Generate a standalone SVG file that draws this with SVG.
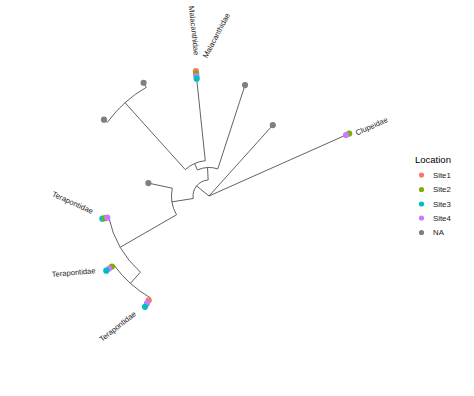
<svg xmlns="http://www.w3.org/2000/svg" width="474" height="396" viewBox="0 0 474 396">
<style>
.e{fill:none;stroke:#3a3a3a;stroke-width:0.8}
.lab{font-family:"Liberation Sans",Arial,sans-serif;font-size:7.6px;fill:#1a1a1a}
.leg{font-family:"Liberation Sans",Arial,sans-serif;font-size:7.8px;fill:#1a1a1a}
.title{font-family:"Liberation Sans",Arial,sans-serif;font-size:9.5px;fill:#000}
.s1{fill:#F8766D}.s2{fill:#7CAE00}.s3{fill:#00BFC4}.s4{fill:#C77CFF}.na{fill:#7F7F7F}
</style>
<rect width="474" height="396" fill="#fff"/>
<g id="connectors">
<path class="e" d="M209,196 L344.2,135.8"/>
<path class="e" d="M209,196 L272.8,125.1"/>
<path class="e" d="M209,196 L196.57,185.93"/>
<path class="e" d="M208.16,180.02 A16,16 0 0 0 193.2,198.5"/>
<path class="e" d="M208.16,180.02 L207.51,167.54"/>
<path class="e" d="M217.81,168.89 A28.5,28.5 0 0 0 197.41,169.97"/>
<path class="e" d="M217.81,168.89 L245.03,85.1"/>
<path class="e" d="M197.41,169.97 L194.56,163.57"/>
<path class="e" d="M205.29,160.7 A35.5,35.5 0 0 0 185.25,169.62"/>
<path class="e" d="M205.29,160.7 L196.67,78.65"/>
<path class="e" d="M185.25,169.62 L125.03,102.74"/>
<path class="e" d="M146.25,87.32 A125.5,125.5 0 0 0 107.47,122.23"/>
<path class="e" d="M146.25,87.32 L143.6,82.73"/>
<path class="e" d="M107.47,122.23 L103.99,119.7"/>
<path class="e" d="M193.2,198.5 L171.96,201.87"/>
<path class="e" d="M172.32,188.2 A37.5,37.5 0 0 0 176.52,214.75"/>
<path class="e" d="M172.32,188.2 L148.36,183.11"/>
<path class="e" d="M176.52,214.75 L120.23,247.25"/>
<path class="e" d="M108.74,217.31 A102.5,102.5 0 0 0 140.42,272.17"/>
<path class="e" d="M108.74,217.31 L107.28,217.62"/>
<path class="e" d="M140.42,272.17 L130.38,283.31"/>
<path class="e" d="M113.94,265.07 A117.5,117.5 0 0 0 150.25,297.76"/>
<path class="e" d="M113.94,265.07 L112.32,266.24"/>
<path class="e" d="M150.25,297.76 L148.75,300.35"/>
</g>
<g id="tip-clupeidae">
<circle class="s2" cx="349.2" cy="133.6" r="3.1"/>
<circle class="s4" cx="346" cy="135" r="3.1"/>
<text class="lab" transform="translate(357,135.5) rotate(-24)">Clupeidae</text>
</g>
<g id="tip-na-1"><circle class="na" cx="272.8" cy="125.1" r="3.1"/></g>
<g id="tip-na-2"><circle class="na" cx="245.03" cy="85.1" r="3.1"/></g>
<g id="tip-malacanthidae">
<circle class="s1" cx="195.89" cy="71.19" r="3.1"/>
<circle class="s2" cx="196.15" cy="73.68" r="3.1"/>
<circle class="s4" cx="196.41" cy="76.16" r="3.1"/>
<circle class="s3" cx="196.67" cy="78.65" r="3.1"/>
<text class="lab" text-anchor="end" transform="translate(194,55.5) rotate(84)">Malacanthidae</text>
</g>
<g id="label-malacanthidae-2">
<text class="lab" transform="translate(207,58.5) rotate(-62)">Malacanthidae</text>
</g>
<g id="tip-na-3"><circle class="na" cx="143.6" cy="82.73" r="3.1"/></g>
<g id="tip-na-4"><circle class="na" cx="103.99" cy="119.7" r="3.1"/></g>
<g id="tip-na-5"><circle class="na" cx="148.36" cy="183.11" r="3.1"/></g>
<g id="tip-terapontidae-1">
<circle class="s3" cx="102.39" cy="218.66" r="3.1"/>
<circle class="s2" cx="104.83" cy="218.14" r="3.1"/>
<circle class="s4" cx="107.28" cy="217.62" r="3.1"/>
<text class="lab" transform="translate(51.5,196) rotate(24)">Terapontidae</text>
</g>
<g id="tip-terapontidae-2">
<circle class="s2" cx="111.92" cy="266.54" r="3.1"/>
<circle class="s4" cx="109.09" cy="268.59" r="3.1"/>
<circle class="s3" cx="106.26" cy="270.65" r="3.1"/>
<text class="lab" transform="translate(52,277) rotate(-5)">Terapontidae</text>
</g>
<g id="tip-terapontidae-3">
<circle class="s1" cx="148.75" cy="300.35" r="3.1"/>
<circle class="s4" cx="147" cy="303.38" r="3.1"/>
<circle class="s3" cx="145" cy="306.85" r="3.1"/>
<text class="lab" transform="translate(102,342) rotate(-38)">Terapontidae</text>
</g>
<g id="legend">
<text class="title" x="415" y="163">Location</text>
<circle class="s1" cx="421.5" cy="175" r="2.6"/>
<circle class="s2" cx="421.5" cy="189.5" r="2.6"/>
<circle class="s3" cx="421.5" cy="204" r="2.6"/>
<circle class="s4" cx="421.5" cy="218" r="2.6"/>
<circle class="na" cx="421.5" cy="232.5" r="2.6"/>
<text class="leg" x="433" y="177.8">Site1</text>
<text class="leg" x="433" y="192.3">Site2</text>
<text class="leg" x="433" y="206.8">Site3</text>
<text class="leg" x="433" y="220.8">Site4</text>
<text class="leg" x="433" y="235.3">NA</text>
</g>
</svg>
